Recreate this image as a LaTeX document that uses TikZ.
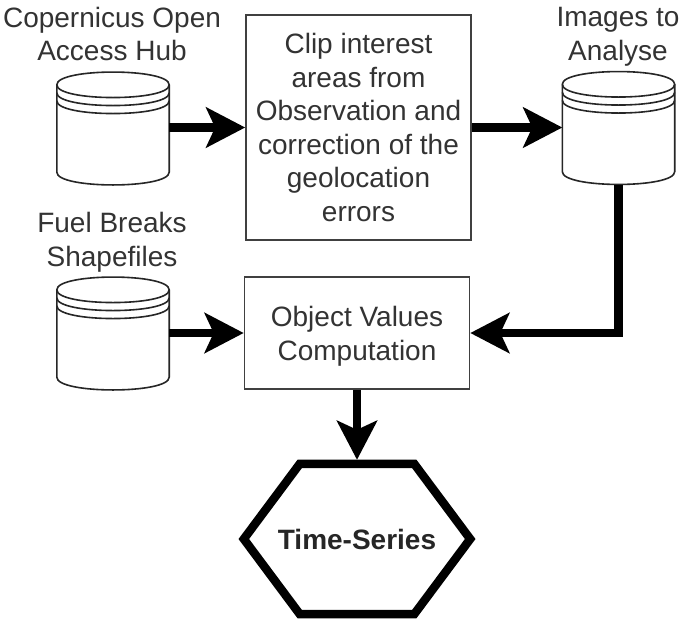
\documentclass[tikz,border=0pt]{standalone}
\usepackage{fontspec}
\setmainfont{Liberation Sans}
\usetikzlibrary{arrows.meta,calc}
\tikzset{
  flowbox/.style={draw=black!75,line width=1.6pt,align=center,inner sep=0pt,text=black!80},
  flowtext/.style={align=center,inner sep=0pt,text=black!80},
  drumline/.style={draw=black!85,line width=1.6pt,fill=white},
  flow/.style={line width=8.5pt,-{Stealth[length=39pt,width=40pt,inset=9pt]}},
}
\newcommand{\drum}[3]{%
\node[minimum width=112pt,minimum height=113pt,inner sep=0pt] (#1) at (#2,#3) {};
\draw[drumline] ($(#1.north west)+(0,13)$) .. controls ($(#1.north west)+(0,-4)$) and ($(#1.north east)+(0,-4)$) .. ($(#1.north east)+(0,13)$)
  -- ($(#1.south east)+(0,-13)$) .. controls ($(#1.south east)+(0,4)$) and ($(#1.south west)+(0,4)$) .. ($(#1.south west)+(0,-13)$) -- cycle;
\foreach \down in {13,21,29}
  \draw[drumline,fill=none] ($(#1.north west)+(0,\down)$) .. controls ($(#1.north west)+(0,\down+17)$) and ($(#1.north east)+(0,\down+17)$) .. ($(#1.north east)+(0,\down)$);
}
\begin{document}
\begin{tikzpicture}[x=1pt,y=-1pt,font=\fontsize{28}{33.6}\selectfont]
\useasboundingbox[fill=white] (0,0) rectangle (685,619);

\drum{hub}{113}{128.5}
\drum{images}{618.5}{128}
\drum{shapes}{113}{333.5}

\node[flowtext] (hublabel) at (112,34) {Copernicus Open\\Access Hub};
\node[flowtext] (imageslabel) at (618,37) {Images to\\Analyse};
\node[flowtext] (shapeslabel) at (112,242) {Fuel Breaks\\Shapefiles};

\node[flowbox,minimum width=225pt,minimum height=225pt] (clip) at (358.5,127.5)
  {Clip interest\\areas from\\Observation and\\correction of the\\geolocation\\errors};
\node[flowbox,minimum width=225pt,minimum height=112pt] (values) at (357,333)
  {\rule{0pt}{27pt}Object Values\\Computation};

\node[minimum width=226pt,minimum height=150pt,inner sep=0pt,text=black!85,font=\fontsize{28}{33.6}\selectfont\bfseries] (series) at (357,539) {Time-Series};
\draw[line width=8.5pt,miter limit=10] (series.west) -- ($(series.north west)+(56,0)$) -- ($(series.north east)+(-56,0)$)
  -- (series.east) -- ($(series.south east)+(-56,0)$) -- ($(series.south west)+(56,0)$) -- cycle;

\draw[flow] (hub.east |- clip.west) -- (clip.west);
\draw[flow] (clip.east) -- (images.west |- clip.east);
\draw[flow] (images.south) |- (values.east);
\draw[flow] (shapes.east |- values.west) -- (values.west);
\draw[flow] (values.south) -- ($(series.north)+(0,-4)$);
\end{tikzpicture}
\end{document}
